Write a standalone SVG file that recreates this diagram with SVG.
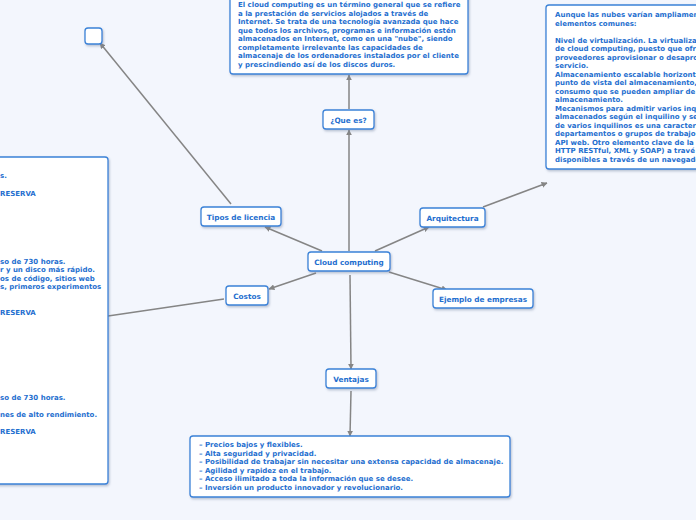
<svg xmlns="http://www.w3.org/2000/svg" width="696" height="520" viewBox="0 0 696 520">
<defs>
<marker id="ah" viewBox="0 0 10 10" refX="9" refY="5" markerWidth="6" markerHeight="6" orient="auto" markerUnits="userSpaceOnUse"><path d="M0,0 L10,5 L0,10 z" fill="#858585"/></marker>
<filter id="sh" x="-10%" y="-10%" width="130%" height="140%"><feDropShadow dx="1" dy="1.5" stdDeviation="1" flood-color="#6a7a99" flood-opacity="0.45"/></filter>
</defs>
<style>
.n{fill:#fff;stroke:#3b82d8;stroke-width:1.3;filter:url(#sh)}
.t{font-family:"DejaVu Sans",Verdana,sans-serif;font-weight:bold;font-size:7px;fill:#1f6fcf}
.c{font-family:"DejaVu Sans",Verdana,sans-serif;font-weight:bold;font-size:7.3px;fill:#1f6fcf;text-anchor:middle}
.e{stroke:#858585;stroke-width:1.5;fill:none}
</style>
<rect width="696" height="520" fill="#f3f6fd"/>
<g id="connectors">
<line class="e" x1="349" y1="251" x2="349" y2="130" marker-end="url(#ah)"/>
<line class="e" x1="349" y1="109" x2="349" y2="75" marker-end="url(#ah)"/>
<line class="e" x1="322" y1="251" x2="265" y2="227" marker-end="url(#ah)"/>
<line class="e" x1="231" y1="204" x2="100" y2="43" marker-end="url(#ah)"/>
<line class="e" x1="375" y1="251" x2="429" y2="227" marker-end="url(#ah)"/>
<line class="e" x1="483" y1="207" x2="547" y2="183" marker-end="url(#ah)"/>
<line class="e" x1="316" y1="273" x2="269" y2="289" marker-end="url(#ah)"/>
<line class="e" x1="224" y1="299" x2="108" y2="316"/>
<line class="e" x1="389" y1="272" x2="447" y2="290" marker-end="url(#ah)"/>
<line class="e" x1="350" y1="275" x2="351" y2="369" marker-end="url(#ah)"/>
<line class="e" x1="351" y1="391" x2="350" y2="436" marker-end="url(#ah)"/>
</g>
<g id="n-que-es-box">
<rect class="n" x="230" y="-6" width="238" height="80" rx="3"/>
<text class="t" x="238" y="7">El cloud computing es un término general que se refiere</text>
<text class="t" x="238" y="15.5">a la prestación de servicios alojados a través de</text>
<text class="t" x="238" y="24">Internet. Se trata de una tecnología avanzada que hace</text>
<text class="t" x="238" y="32.5">que todos los archivos, programas e información estén</text>
<text class="t" x="238" y="41">almacenados en Internet, como en una "nube", siendo</text>
<text class="t" x="238" y="49.5">completamente irrelevante las capacidades de</text>
<text class="t" x="238" y="58">almacenaje de los ordenadores instalados por el cliente</text>
<text class="t" x="238" y="66.5">y prescindiendo así de los discos duros.</text>
</g>
<g id="n-arq-box">
<rect class="n" x="546" y="5" width="160" height="164" rx="3"/>
<text class="t" x="555" y="17">Aunque las nubes varían ampliamen</text>
<text class="t" x="555" y="25.5">elementos comunes:</text>
<text class="t" x="555" y="42.5">Nivel de virtualización. La virtualizac</text>
<text class="t" x="555" y="51">de cloud computing, puesto que ofre</text>
<text class="t" x="555" y="59.5">proveedores aprovisionar o desaprov</text>
<text class="t" x="555" y="68">servicio.</text>
<text class="t" x="555" y="76.5">Almacenamiento escalable horizonta</text>
<text class="t" x="555" y="85">punto de vista del almacenamiento,</text>
<text class="t" x="555" y="93.5">consumo que se pueden ampliar de</text>
<text class="t" x="555" y="102">almacenamiento.</text>
<text class="t" x="555" y="110.5">Mecanismos para admitir varios inqu</text>
<text class="t" x="555" y="119">almacenados según el inquilino y se</text>
<text class="t" x="555" y="127.5">de varios inquilinos es una caracterí</text>
<text class="t" x="555" y="136">departamentos o grupos de trabajo</text>
<text class="t" x="555" y="144.5">API web. Otro elemento clave de la</text>
<text class="t" x="555" y="153">HTTP RESTful, XML y SOAP) a travé</text>
<text class="t" x="555" y="161.5">disponibles a través de un navegado</text>
</g>
<g id="n-costos-box">
<rect class="n" x="-10" y="157" width="118" height="327" rx="3"/>
<text class="t" x="0" y="178">s.</text>
<text class="t" x="0" y="196">RESERVA</text>
<text class="t" x="0" y="264">so de 730 horas.</text>
<text class="t" x="0" y="272">r y un disco más rápido.</text>
<text class="t" x="0" y="280.5">os de código, sitios web</text>
<text class="t" x="0" y="289">s, primeros experimentos</text>
<text class="t" x="0" y="315">RESERVA</text>
<text class="t" x="0" y="400">so de 730 horas.</text>
<text class="t" x="0" y="417">nes de alto rendimiento.</text>
<text class="t" x="0" y="434">RESERVA</text>
</g>
<g id="n-ventajas-box">
<rect class="n" x="190" y="436" width="320" height="61" rx="3"/>
<text class="t" x="199" y="447">– Precios bajos y flexibles.</text>
<text class="t" x="199" y="455.5">– Alta seguridad y privacidad.</text>
<text class="t" x="199" y="464">– Posibilidad de trabajar sin necesitar una extensa capacidad de almacenaje.</text>
<text class="t" x="199" y="472.5">– Agilidad y rapidez en el trabajo.</text>
<text class="t" x="199" y="481">– Acceso ilimitado a toda la información que se desee.</text>
<text class="t" x="199" y="489.5">– Inversión un producto innovador y revolucionario.</text>
</g>
<g id="n-licencia-box"><rect class="n" x="85" y="28" width="17" height="16" rx="3"/></g>
<g id="n-cloud"><rect class="n" x="308" y="252" width="82" height="19" rx="3"/><text class="c" x="349" y="264.5">Cloud computing</text></g>
<g id="n-que"><rect class="n" x="323" y="110" width="51" height="19" rx="3"/><text class="c" x="348.5" y="122.5">¿Que es?</text></g>
<g id="n-tipos"><rect class="n" x="201" y="207" width="80" height="19" rx="3"/><text class="c" x="241" y="219.5">Tipos de licencia</text></g>
<g id="n-arq"><rect class="n" x="420" y="208" width="65" height="19" rx="3"/><text class="c" x="452.5" y="220.5">Arquitectura</text></g>
<g id="n-costos"><rect class="n" x="226" y="286" width="42" height="19" rx="3"/><text class="c" x="247" y="298.5">Costos</text></g>
<g id="n-ejemplo"><rect class="n" x="433" y="289" width="100" height="19" rx="3"/><text class="c" x="483" y="301.5">Ejemplo de empresas</text></g>
<g id="n-ventajas"><rect class="n" x="326" y="369" width="50" height="19" rx="3"/><text class="c" x="351" y="381.5">Ventajas</text></g>
</svg>
